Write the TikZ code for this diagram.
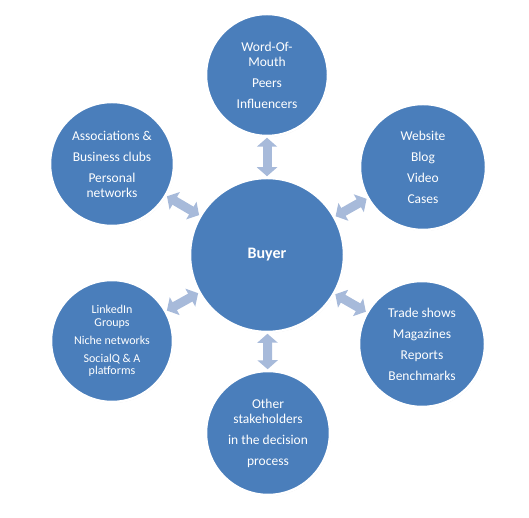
\documentclass[tikz,border=0pt]{standalone}
\usepackage{fontspec}
\setmainfont{Carlito}
\usetikzlibrary{arrows.meta,shadows}
\definecolor{colorBubble}{HTML}{4A7EBB}
\definecolor{colorLink}{HTML}{A7BADA}

\begin{document}
\begin{tikzpicture}[x=1pt,y=1pt,>={Triangle[width=20pt,length=9pt]},every node/.append style={align=center},bubble/.style={circle,draw=white,line width=2.5pt,fill=colorBubble,text=white,inner sep=0pt,font=\fontsize{13.5}{15}\selectfont,drop shadow={shadow xshift=0.6pt,shadow yshift=-0.9pt,opacity=0.3}},link/.style={<->,color=colorLink,line width=9pt,shorten <=0.5pt,shorten >=0.5pt}]
    \useasboundingbox (0,0) rectangle (529,518);
    \node [bubble, minimum size=154pt, font=\fontsize{16}{18}\selectfont\bfseries] (buyer) at (267,263) {Buyer};
    \node [bubble, minimum size=122pt] (mouth) at (267,443) {Word-Of-\\Mouth\\[6pt]Peers\\[6pt]Influencers};
    \node [bubble, minimum size=126pt] (web) at (423,351) {Website\\[6pt]Blog\\[6pt]Video\\[6pt]Cases};
    \node [bubble, minimum size=124pt] (assoc) at (112,354) {Associations \&\\[6pt]Business clubs\\[6pt]Personal\\networks};
    \node [bubble, minimum size=122pt, font=\fontsize{12}{12.5}\selectfont] (social) at (112,177) {LinkedIn\\Groups\\[5.5pt]Niche networks\\[5.5pt]SocialQ \& A\\platforms};
    \node [bubble, minimum size=126pt] (trade) at (422,174) {Trade shows\\[6pt]Magazines\\[6pt]Reports\\[6pt]Benchmarks};
    \node [bubble, minimum size=124pt] (other) at (268,85) {Other\\stakeholders\\[6pt]in the decision\\[6pt]process};
    \path[link] (buyer) edge (mouth);
    \path[link] (buyer) edge (web);
    \path[link] (buyer) edge (assoc);
    \path[link] (buyer) edge (social);
    \path[link] (buyer) edge (trade);
    \path[link] (buyer) edge (other);
\end{tikzpicture}
\end{document}
